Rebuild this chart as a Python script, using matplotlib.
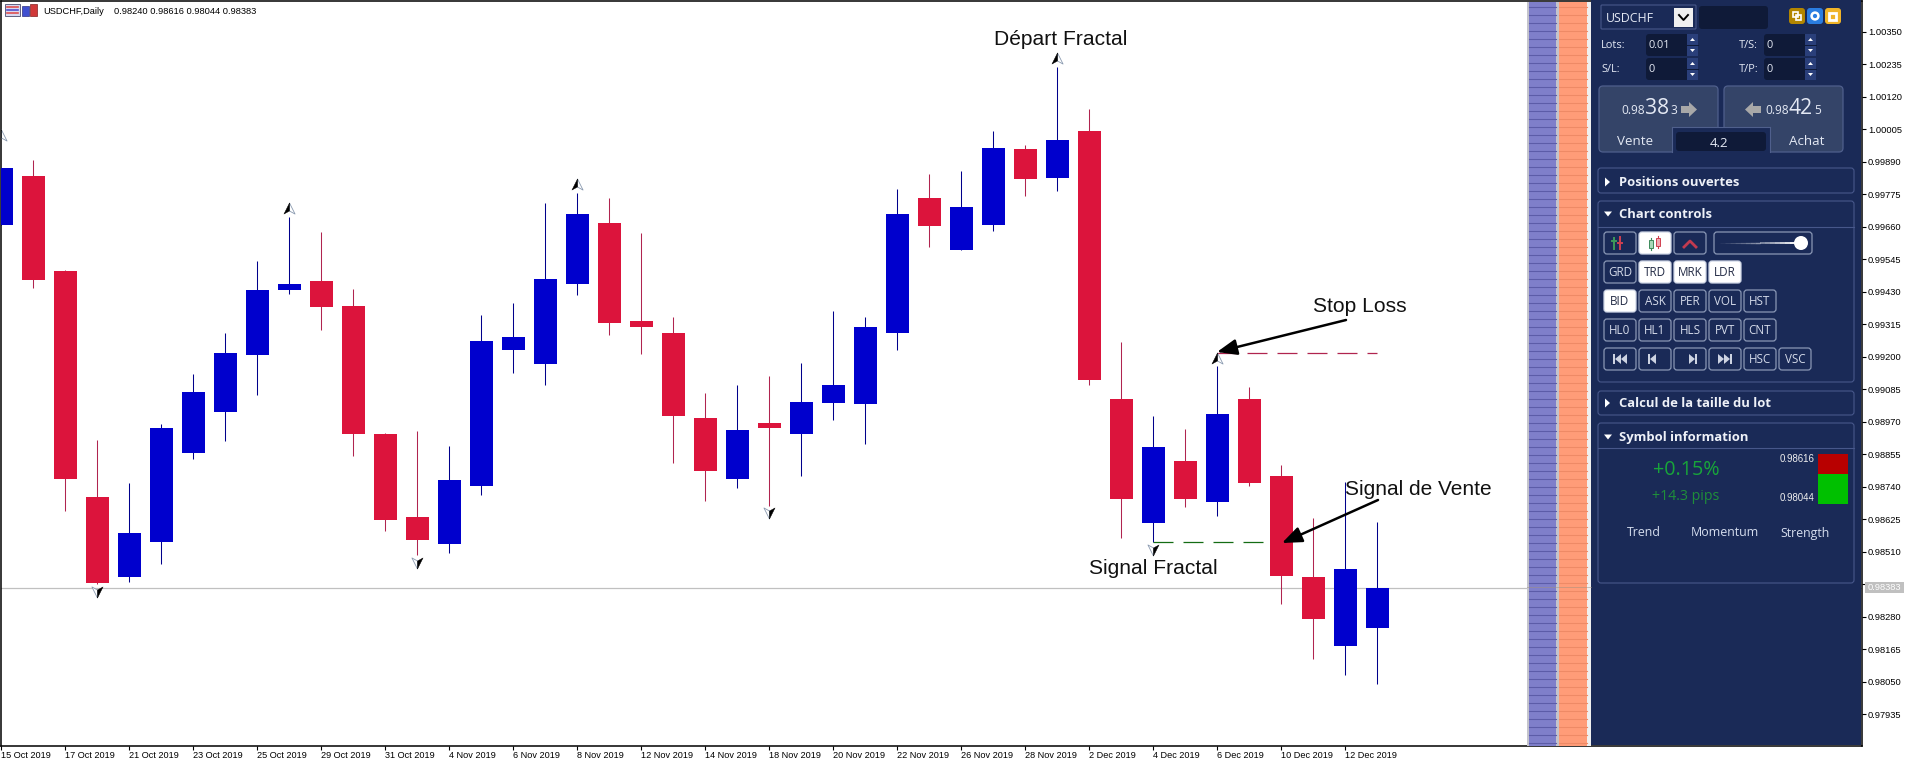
import matplotlib
matplotlib.use("Agg")
import matplotlib.pyplot as plt
from matplotlib.patches import Rectangle, FancyBboxPatch, Polygon, Circle

# ---------- chart data ----------
dates = ["15 Oct 2019","17 Oct 2019","21 Oct 2019","23 Oct 2019","25 Oct 2019","29 Oct 2019",
         "31 Oct 2019","4 Nov 2019","6 Nov 2019","8 Nov 2019","12 Nov 2019","14 Nov 2019",
         "18 Nov 2019","20 Nov 2019","22 Nov 2019","26 Nov 2019","28 Nov 2019","2 Dec 2019",
         "4 Dec 2019","6 Dec 2019","10 Dec 2019","12 Dec 2019"]
opens = [.99667,.99839,.99503,.98704,.98422,.98546,.98860,.99006,.99207,.99436,.99468,.99380,
         .98927,.98633,.98539,.98744,.99224,.99175,.99458,.99673,.99326,.99284,.98983,.98769,
         .98966,.98928,.99037,.99034,.99285,.99762,.99579,.99667,.99935,.99833,.99999,.99050,
         .98613,.98831,.98687,.99050,.98778,.98421,.98178,.98240]
highs = [.99868,.99896,.99507,.98905,.98753,.98962,.99139,.99284,.99539,.99694,.99641,.99440,
         .98930,.98937,.98884,.99348,.99390,.99744,.99779,.99762,.99638,.99341,.99072,.99100,
         .99132,.99178,.99362,.99341,.99793,.99846,.99857,.99999,.99949,1.00225,1.00077,.99252,
         .98990,.98944,.99167,.99093,.98817,.98629,.98757,.98616]
lows = [.99667,.99444,.98655,.98396,.98404,.98467,.98839,.98902,.99065,.99422,.99295,.98850,
        .98583,.98499,.98507,.98712,.99142,.99100,.99418,.99277,.99210,.98824,.98690,.98737,
        .98672,.98778,.98976,.98891,.99224,.99588,.99578,.99645,.99769,.99786,.99100,.98559,
        .98545,.98668,.98637,.98743,.98325,.98131,.98074,.98044]
closes = [.99868,.99473,.98769,.98401,.98576,.98948,.99075,.99213,.99436,.99457,.99377,.98928,
          .98623,.98553,.98764,.99256,.99270,.99475,.99705,.99320,.99306,.98991,.98797,.98941,
          .98948,.99040,.99100,.99305,.99705,.99664,.99730,.99939,.99830,.99967,.99119,.98698,
          .98881,.98698,.98997,.98754,.98425,.98273,.98449,.98383]
price_ticks = [1.00350,1.00235,1.00120,1.00005,.99890,.99775,.99660,.99545,.99430,.99315,.99200,
               .99085,.98970,.98855,.98740,.98625,.98510,.98395,.98280,.98165,.98050,.97935]
last_price = 0.98383
fractal_up_x = [0, 9, 18, 33, 38]
fractal_up_y = [.99984,.99726,.99811,1.00257,.99196]
fractal_dn_x = [3, 13, 24, 36]
fractal_dn_y = [.98368,.98470,.98647,.98516]
stop_level = 0.99213
stop_span = [38, 43]
signal_level = 0.98545
signal_span = [36, 40]

W, H = 1916, 765
BLUE, RED = "#0000cd", "#dc143c"
WICK_B, WICK_R = "#00008b", "#b0244f"
SANS = "Liberation Sans"
UI = "Open Sans"

fig = plt.figure(figsize=(W/100, H/100), dpi=100, facecolor="white")
ax = fig.add_axes([1/W, (H-746)/H, (1862-1)/W, 745/H])
ax.set_xlim(-0.009, 58.15)
ax.set_ylim(0.97823, 1.00459)

for i, (o, h, l, c) in enumerate(zip(opens, highs, lows, closes)):
    up = c >= o
    ax.vlines(i, l, h, color=WICK_B if up else WICK_R, lw=0.75, zorder=2)
    ax.bar(i, abs(c-o), bottom=min(o, c), width=0.72, color=BLUE if up else RED, lw=0, zorder=3)

ax.axhline(last_price, color="#c0c0c0", lw=0.9, zorder=1)
ax.plot(stop_span, [stop_level]*2, color="#b0244f", lw=0.9, dashes=(16, 8), zorder=2)
ax.plot(signal_span, [signal_level]*2, color="#146c14", lw=0.9, dashes=(16, 8), zorder=2)

# fractal arrows: half black, half white
UL = [(0,1),(-1,-1),(0,-0.45),(0,1)]
UR = [(0,1),(1,-1),(0,-0.45),(0,1)]
DL = [(0,-1),(-1,1),(0,0.45),(0,-1)]
DR = [(0,-1),(1,1),(0,0.45),(0,-1)]
ms = 8
ax.plot(fractal_up_x, fractal_up_y, ls="", marker=UR, ms=ms, mfc="white", mec="#8a9ab0", mew=0.6, zorder=4)
ax.plot(fractal_up_x, fractal_up_y, ls="", marker=UL, ms=ms, mfc="black", mec="black", mew=0.3, zorder=4)
ax.plot(fractal_dn_x, fractal_dn_y, ls="", marker=DL, ms=ms, mfc="white", mec="#8a9ab0", mew=0.6, zorder=4)
ax.plot(fractal_dn_x, fractal_dn_y, ls="", marker=DR, ms=ms, mfc="black", mec="black", mew=0.3, zorder=4)

ax.yaxis.tick_right()
ax.set_yticks(price_ticks)
ax.set_yticklabels([f"{p:.5f}" for p in price_ticks], fontsize=6.7, family=SANS)
ax.set_xticks(list(range(0, 2*len(dates), 2)))
ax.set_xticklabels(dates, fontsize=6.6, family=SANS, ha="left")
ax.tick_params(axis="y", length=3, width=0.8, pad=1.2)
ax.tick_params(axis="x", length=3, width=0.8, pad=0.6)
for s in ax.spines.values():
    s.set_linewidth(1.1)
    s.set_color("black")

# ---------- overlay in pixel coordinates ----------
ui = fig.add_axes([0, 0, 1, 1], zorder=5)
ui.set_xlim(0, W); ui.set_ylim(H, 0); ui.axis("off"); ui.patch.set_alpha(0)

def rect(x0, y0, x1, y1, fc, ec="none", lw=0.0, z=1):
    ui.add_patch(Rectangle((x0, y0), x1-x0, y1-y0, fc=fc, ec=ec, lw=lw, zorder=z))

def rrect(x0, y0, x1, y1, fc="none", ec="none", lw=0.9, r=3, z=2):
    ui.add_patch(FancyBboxPatch((x0+r, y0+r), x1-x0-2*r, y1-y0-2*r, boxstyle=f"round,pad={r},rounding_size={r}",
                                fc=fc, ec=ec, lw=lw, zorder=z, mutation_aspect=1))

def txt(x, y, s, size, color="#e4e9f4", ha="left", weight="normal", fam=UI, z=5):
    ui.text(x, y, s, fontsize=size, color=color, ha=ha, va="center", fontweight=weight, family=fam, zorder=z)

def poly(pts, fc, z=4):
    ui.add_patch(Polygon(pts, closed=True, fc=fc, ec="none", zorder=z))

NAVY, DARK, LINE, BTN = "#1a2a57", "#0f1a38", "#47578a", "#344468"

# coloured bands
rect(1527, 2, 1591, 746, "#c4c4cc", z=1)
rect(1587, 2, 1591, 746, "#f0f0f0", z=1)
rect(1529, 2, 1556, 746, "#7f7fca", z=1)
rect(1559, 2, 1587, 746, "#ff9c78", z=1)
for y in range(7, 746, 8):
    ui.plot([1529, 1556], [y, y], color="#5c5ca8", lw=0.8, zorder=1.5)
    ui.plot([1559, 1587], [y, y], color="#ee8a66", lw=0.8, zorder=1.5)
ui.plot([1527, 1591], [587, 587], color="#a09080", lw=0.7, alpha=0.5, zorder=1.6)

# panel
rect(1591, 0, 1861, 745, NAVY, z=1)

# symbol row
rrect(1601, 5, 1696, 29, ec=LINE, lw=0.8, r=1)
txt(1606, 18, "USDCHF", 8.9)
rect(1674, 8, 1693, 27, "#f0f0f0", z=3)
ui.plot([1679, 1683.5, 1688], [15, 20, 15], color="black", lw=1.4, zorder=4)
rrect(1699, 6, 1768, 29, fc=DARK, r=3)
for x0, c in zip([1789, 1807, 1825], ["#b38600", "#2a7de1", "#f0b428"]):
    rrect(x0, 8, x0+16, 24, fc=c, r=3)
ui.add_patch(Rectangle((1793, 12), 5, 5, fc="none", ec="white", lw=1.2, zorder=4))
ui.add_patch(Rectangle((1796, 15), 5, 5, fc="none", ec="white", lw=1.2, zorder=4))
ui.add_patch(Circle((1815, 16), 3.4, fc="none", ec="white", lw=1.8, zorder=4))
ui.add_patch(Rectangle((1829.5, 12.5), 7, 7, fc="none", ec="white", lw=2.0, zorder=4))

# inputs
def spin(x, y0, y1):
    rect(x, y0, x+11, y1, "#2a3f7a", z=3)
    m = (y0+y1)/2
    ui.plot([x, x+11], [m, m], color=DARK, lw=0.7, zorder=4)
    poly([(x+3, m-4), (x+8, m-4), (x+5.5, m-7)], "white")
    poly([(x+3, m+4), (x+8, m+4), (x+5.5, m+7)], "white")

for lab, lx, bx, tx, val, y0, y1 in [("Lots:", 1601, 1646, 1649, "0.01", 34, 56),
                                     ("S/L:", 1601, 1646, 1649, "0", 58, 80),
                                     ("T/S:", 1739, 1764, 1767, "0", 34, 56),
                                     ("T/P:", 1739, 1764, 1767, "0", 58, 80)]:
    txt(lx, (y0+y1)/2+0.5, lab, 7.9)
    rrect(bx, y0, bx+44, y1, fc=DARK, r=3)
    txt(tx, (y0+y1)/2+0.5, val, 7.9)
    spin(bx+41, y0, y1)

# sell / buy
rrect(1599, 86, 1718, 152, fc=BTN, ec="#4f5f8c", r=4)
rrect(1724, 86, 1843, 152, fc=BTN, ec="#4f5f8c", r=4)
ui.add_patch(Rectangle((1672.5, 127), 97.5, 27, fc=NAVY, ec="none", zorder=3))
ui.plot([1672.5, 1672.5], [127, 152], color="#4f5f8c", lw=0.8, zorder=3.5)
ui.plot([1770, 1770], [127, 152], color="#4f5f8c", lw=0.8, zorder=3.5)
ui.plot([1672.5, 1770], [127.3, 127.3], color="#4f5f8c", lw=0.8, zorder=3.5)
rrect(1676, 132, 1766, 151, fc=DARK, r=3, z=4)
txt(1719, 143, "4.2", 9.6, ha="center")
txt(1621, 110, "0.98", 8.6); txt(1645, 108, "38", 15.2); txt(1670, 110, "3", 8.6)
txt(1765, 110, "0.98", 8.6); txt(1789, 108, "42", 15.2); txt(1814, 110, "5", 8.6)
GREY = "#a8a8a8"
poly([(1681,106),(1689,106),(1689,102),(1697,109.5),(1689,117),(1689,113),(1681,113)], GREY)
poly([(1761,106),(1753,106),(1753,102),(1745,109.5),(1753,117),(1753,113),(1761,113)], GREY)
txt(1635, 141, "Vente", 9.6, ha="center")
txt(1807, 141, "Achat", 9.6, ha="center")

# section frames
def section(y0, y1, title, y_text, is_open, y_line=None):
    rrect(1598, y0, 1854, y1, ec=LINE, lw=0.8, r=3)
    txt(1619, y_text, title, 9.4, weight="bold", color="#eef1f8")
    if is_open:
        poly([(1604, y_text-2.5), (1612, y_text-2.5), (1608, y_text+2.5)], "white")
    else:
        poly([(1605, y_text-4.5), (1605, y_text+4.5), (1610, y_text)], "white")
    if y_line:
        ui.plot([1598, 1854], [y_line, y_line], color=LINE, lw=0.8, zorder=2)

section(168, 193, "Positions ouvertes", 182, False)
section(201, 382, "Chart controls", 214, True, 227)
section(391, 415, "Calcul de la taille du lot", 403, False)
section(423, 583, "Symbol information", 437, True, 448)

# buttons
cols = [1604, 1639, 1674, 1709, 1744, 1779]
BEDGE = "#8a97b5"
def button(c, y, label=None, on=False):
    x = cols[c]
    rrect(x, y, x+32, y+22, fc="white" if on else "none", ec="#cfd6e6" if on else BEDGE, lw=0.9, r=3)
    if label:
        txt(x+16, y+11, label, 8.4, ha="center", color="#222a44" if on else "#d5dbea")

for c, on in enumerate([False, True, False]):
    button(c, 232, None, on)
# icon 1: bars
ui.plot([1614, 1614], [238, 249], color="#3c9a5a", lw=1.4, zorder=4)
ui.plot([1612, 1614, 1616], [241, 241, 241], color="#3c9a5a", lw=1.4, zorder=4)
ui.plot([1620, 1620], [237, 249], color="#d04050", lw=1.4, zorder=4)
ui.plot([1618, 1620, 1622], [243, 243, 243], color="#d04050", lw=1.4, zorder=4)
# icon 2: candles
ui.plot([1651, 1651], [238, 250], color="#3c8a5a", lw=0.8, zorder=4)
rect(1649, 240, 1653, 248, "#a8d8b8", "#3c8a5a", 0.7, z=4)
ui.plot([1658, 1658], [236, 248], color="#d04050", lw=0.8, zorder=4)
rect(1656, 238, 1660, 246, "#f0a8b0", "#d04050", 0.7, z=4)
# icon 3: chevron
ui.plot([1684, 1690, 1696], [247, 241, 247], color="#c23a50", lw=2.0, zorder=4)
# slider
rrect(1714, 232, 1812, 254, ec=BEDGE, r=3)
for k in range(16):
    xa = 1720 + k*5
    ui.plot([xa, xa+5], [243, 243], color="white", lw=0.6+k*0.06, alpha=(k+1)/16, zorder=4, solid_capstyle="butt")
ui.add_patch(Circle((1801, 243), 7, fc="white", ec="none", zorder=5))

rows = {261: [("GRD", 0), ("TRD", 1), ("MRK", 1), ("LDR", 1)],
        290: [("BID", 1), ("ASK", 0), ("PER", 0), ("VOL", 0), ("HST", 0)],
        319: [("HL0", 0), ("HL1", 0), ("HLS", 0), ("PVT", 0), ("CNT", 0)]}
for y, items in rows.items():
    for c, (lab, on) in enumerate(items):
        button(c, y, lab, bool(on))
for c in range(4):
    button(c, 348)
button(4, 348, "HSC"); button(5, 348, "VSC")
G2 = "#cdd3e2"
def step(xc, d, double):
    y = 359
    bar = xc + (d*5)
    rect(min(bar, bar+d*2), y-5, max(bar, bar+d*2), y+5, G2, z=4)
    poly([(xc+d*5, y), (xc-d*1, y-5), (xc-d*1, y+5)], G2)
    if double:
        poly([(xc-d*1, y), (xc-d*7, y-5), (xc-d*7, y+5)], G2)
step(cols[0]+16, -1, True); step(cols[1]+16, -1, False)
step(cols[2]+16, 1, False); step(cols[3]+16, 1, True)

# symbol information
txt(1686, 470, "+0.15%", 14.2, color="#18a53a", ha="center")
txt(1686, 496, "+14.3 pips", 10.2, color="#1f8f3a", ha="center")
txt(1815, 459, "0.98616", 6.9, ha="right", fam=SANS, color="#f0f0f0")
txt(1815, 498, "0.98044", 6.9, ha="right", fam=SANS, color="#f0f0f0")
rect(1818, 454, 1848, 474, "#b80000", z=3)
rect(1818, 474, 1848, 504, "#00c000", z=3)
for x, lab in zip([1644, 1725, 1805], ["Trend", "Momentum", "Strength"]):
    txt(x, 533, lab, 8.9, ha="center", color="#d5ddee")

# current price box
rect(1865, 582, 1904, 593, "#c0c0c0", z=6)
txt(1868, 587.5, "0.98383", 6.7, color="white", fam=SANS, z=7)

# chart header
rect(5, 4, 20, 16, "#d8d8f0", "#606080", 0.7, z=3)
for yy, cc in zip([7, 10, 13], ["#e05050", "#5050d0", "#e05050"]):
    ui.plot([7, 18], [yy, yy], color=cc, lw=1.2, zorder=4)
rect(22, 6, 29, 16, "#4050d0", "#303080", 0.5, z=3)
rect(30, 4, 37, 16, "#d03838", "#802020", 0.5, z=3)
txt(43, 11, "USDCHF,Daily", 6.7, color="black", fam=SANS)
txt(114, 11, "0.98240 0.98616 0.98044 0.98383", 6.7, color="black", fam=SANS)

# annotations
txt(1061, 39, "Départ Fractal", 15.1, color="#111111", ha="center", fam=SANS)
txt(1313, 306, "Stop Loss", 15.1, color="#111111", fam=SANS)
txt(1345, 489, "Signal de Vente", 15.0, color="#111111", fam=SANS)
txt(1089, 569, "Signal Fractal", 15.1, color="#111111", fam=SANS)
for tail, tip in [((1346, 320), (1217, 352)), ((1378, 500), (1282, 543))]:
    ui.annotate("", xy=tip, xytext=tail, zorder=6,
                arrowprops=dict(arrowstyle="-|>,head_length=0.75,head_width=0.3", color="black", lw=1.8,
                                shrinkA=0, shrinkB=0, mutation_scale=16))

fig.savefig("out.png", dpi=100)
